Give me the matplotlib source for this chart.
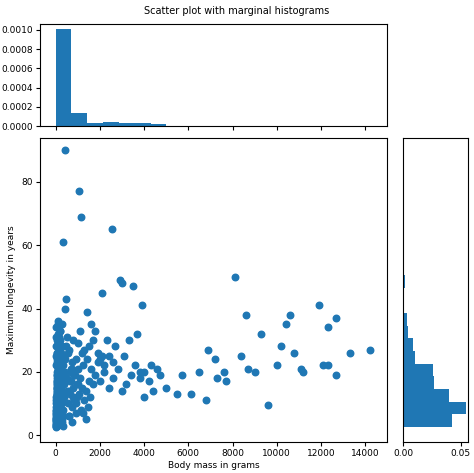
import matplotlib
matplotlib.use("Agg")
import matplotlib.pyplot as plt

# scatter data (body mass g, max longevity years)
mass = [430,1050,1150,350,2550,2900,3000,3500,2100,3900,8100,10600,11900,12700,12300,10400,8600,9300,13300,14200,
        9600,6800,6900,5700,5500,6100,7300,7600,7700,8400,8700,9000,10000,10200,10800,11100,11200,12100,12300,12700,
        7200,6500,4700,4300,4600,5000,4400,4200,4000,3800,3700,3300,3100,2700,2600,2400,2300,2200,2100,2000,
        1900,1800,1700,1600,1500,1400,1300,1200,1100,1000,900,800,700,600,500,450,400,380,350,320,
        300,280,260,240,220,200,180,160,140,120,100,90,80,70,60,50,40,30,20,10,
        15,25,35,45,55,65,75,85,95,110,130,150,170,190,210,230,250,270,290,310,
        12,18,22,28,33,38,42,48,52,58,62,68,72,78,82,88,92,98,105,115,
        125,135,145,155,165,175,185,195,205,215,225,235,245,255,265,275,285,295,305,315,
        8,14,19,24,29,34,39,44,49,54,59,64,69,74,79,84,89,94,99,104,
        600,650,700,750,800,850,900,950,1000,1050,1100,1150,1200,1250,1300,1350,1400,1450,1500,1550,
        1600,1700,1800,1900,2000,2200,2400,2600,2800,3000,3200,3400,3600,3800,4000,1250,1350,550,620,750,
        5,11,16,21,26,31,36,41,46,51,56,61,66,71,76,81,86,91,96,101,
        340,360,390,410,440,470,490,520,560,580,660,690,720,760,790,830,870,930,970,1020]
longevity = [90,77,69,61,65,49,48,47,45,41,50,38,41,37,34,35,38,32,26,27,
             9.5,11,27,19,13,13,18,20,17,25,21,20,22,28,26,21,20,22,22,19,
             24,20,19,22,21,15,14,17,20,20,32,30,25,28,23,25,30,22,25,24,
             26,33,30,35,28,39,27,26,33,29,24,30,21,27,31,43,40,25,22,18,
             35,28,24,20,15,12,9,30,22,18,14,10,8,6,5,4,3,3.5,4.5,3,
             7,9,11,13,15,17,19,21,23,25,27,29,31,33,20,17,14,11,8,6,
             5,6,8,10,12,14,16,18,20,22,24,26,28,30,16,13,10,7,5,4,
             6,9,12,15,18,21,24,27,30,33,26,23,19,16,13,10,7,5,4,3,
             2.5,3.5,4.5,5.5,6.5,7.5,8.5,9.5,10.5,11.5,12.5,13.5,14.5,15.5,16.5,17.5,18.5,19.5,20.5,21.5,
             14,17,20,23,12,19,10,16,21,13,18,8,15,22,11,14,24,9,17,12,
             21,16,19,23,17,20,15,18,21,14,16,19,22,18,12,7,5,26,6,4,
             22,25,28,31,34,3,5,7,9,11,13,15,17,19,23,26,29,32,35,36,
             8,12,16,20,24,28,18,14,10,6,13,17,21,9,15,11,19,7,12,16]

# histogram bins/heights (density)
top_edges = [0,715,1430,2145,2860,3575,4290,5005,5720,6435,7150,7865,8580,9295,10010,10725,11440,12155,12870,13585,14300]
top_heights = [0.00101,0.000135,0.00003,0.000045,0.00003,0.00003,0.00002,0.0,0.000004,0.000004,0.0,
               0.000005,0.000005,0.0,0.000005,0.000004,0.0,0.000004,0.0,0.0]
right_edges = [2.6,6.6,10.6,14.6,18.6,22.6,26.6,30.6,34.6,38.6,42.6,46.6,50.6]
right_widths = [0.043,0.0545,0.040,0.027,0.026,0.0105,0.0084,0.0045,0.0036,0.001,0.0005,0.002]

W, H = 474, 473
fig = plt.figure(figsize=(W/100, H/100), dpi=100)
def rect(l, r, t, b):
    return [l/W, 1-b/H, (r-l)/W, (b-t)/H]
ax = fig.add_axes(rect(40, 387, 138, 442))
axt = fig.add_axes(rect(40, 387, 24, 126))
axr = fig.add_axes(rect(403, 468, 138, 442))
fs = 6.5

ax.scatter(mass, longevity, s=22, color='#1f77b4')
ax.set_xlim(-710, 14990)
ax.set_ylim(-2.2, 93.9)
ax.set_xticks([0,2000,4000,6000,8000,10000,12000,14000])
ax.set_xlabel("Body mass in grams", fontsize=fs, labelpad=2)
ax.set_ylabel("Maximum longevity in years", fontsize=fs)
ax.tick_params(labelsize=fs, length=3, pad=2)

tw = [top_edges[i+1]-top_edges[i] for i in range(len(top_heights))]
axt.bar(top_edges[:-1], top_heights, width=tw, align='edge', color='#1f77b4')
axt.set_xlim(ax.get_xlim())
axt.set_ylim(0, 0.00106)
axt.set_yticks([0,0.0002,0.0004,0.0006,0.0008,0.0010])
axt.set_yticklabels(["0.0000","0.0002","0.0004","0.0006","0.0008","0.0010"])
axt.set_xticks(ax.get_xticks())
axt.set_xticklabels([])
axt.tick_params(labelsize=fs, length=3, pad=2)

rh = [right_edges[i+1]-right_edges[i] for i in range(len(right_widths))]
axr.barh(right_edges[:-1], right_widths, height=rh, align='edge', color='#1f77b4')
axr.set_ylim(ax.get_ylim())
axr.set_xlim(0, 0.0565)
axr.set_xticks([0, 0.05])
axr.set_xticklabels(["0.00", "0.05"])
axr.set_yticks([])
axr.tick_params(labelsize=fs, length=3, pad=2)

fig.text(0.5, 1-11/H, "Scatter plot with marginal histograms", ha='center', va='center', fontsize=7)
fig.savefig("out.png", dpi=100)
